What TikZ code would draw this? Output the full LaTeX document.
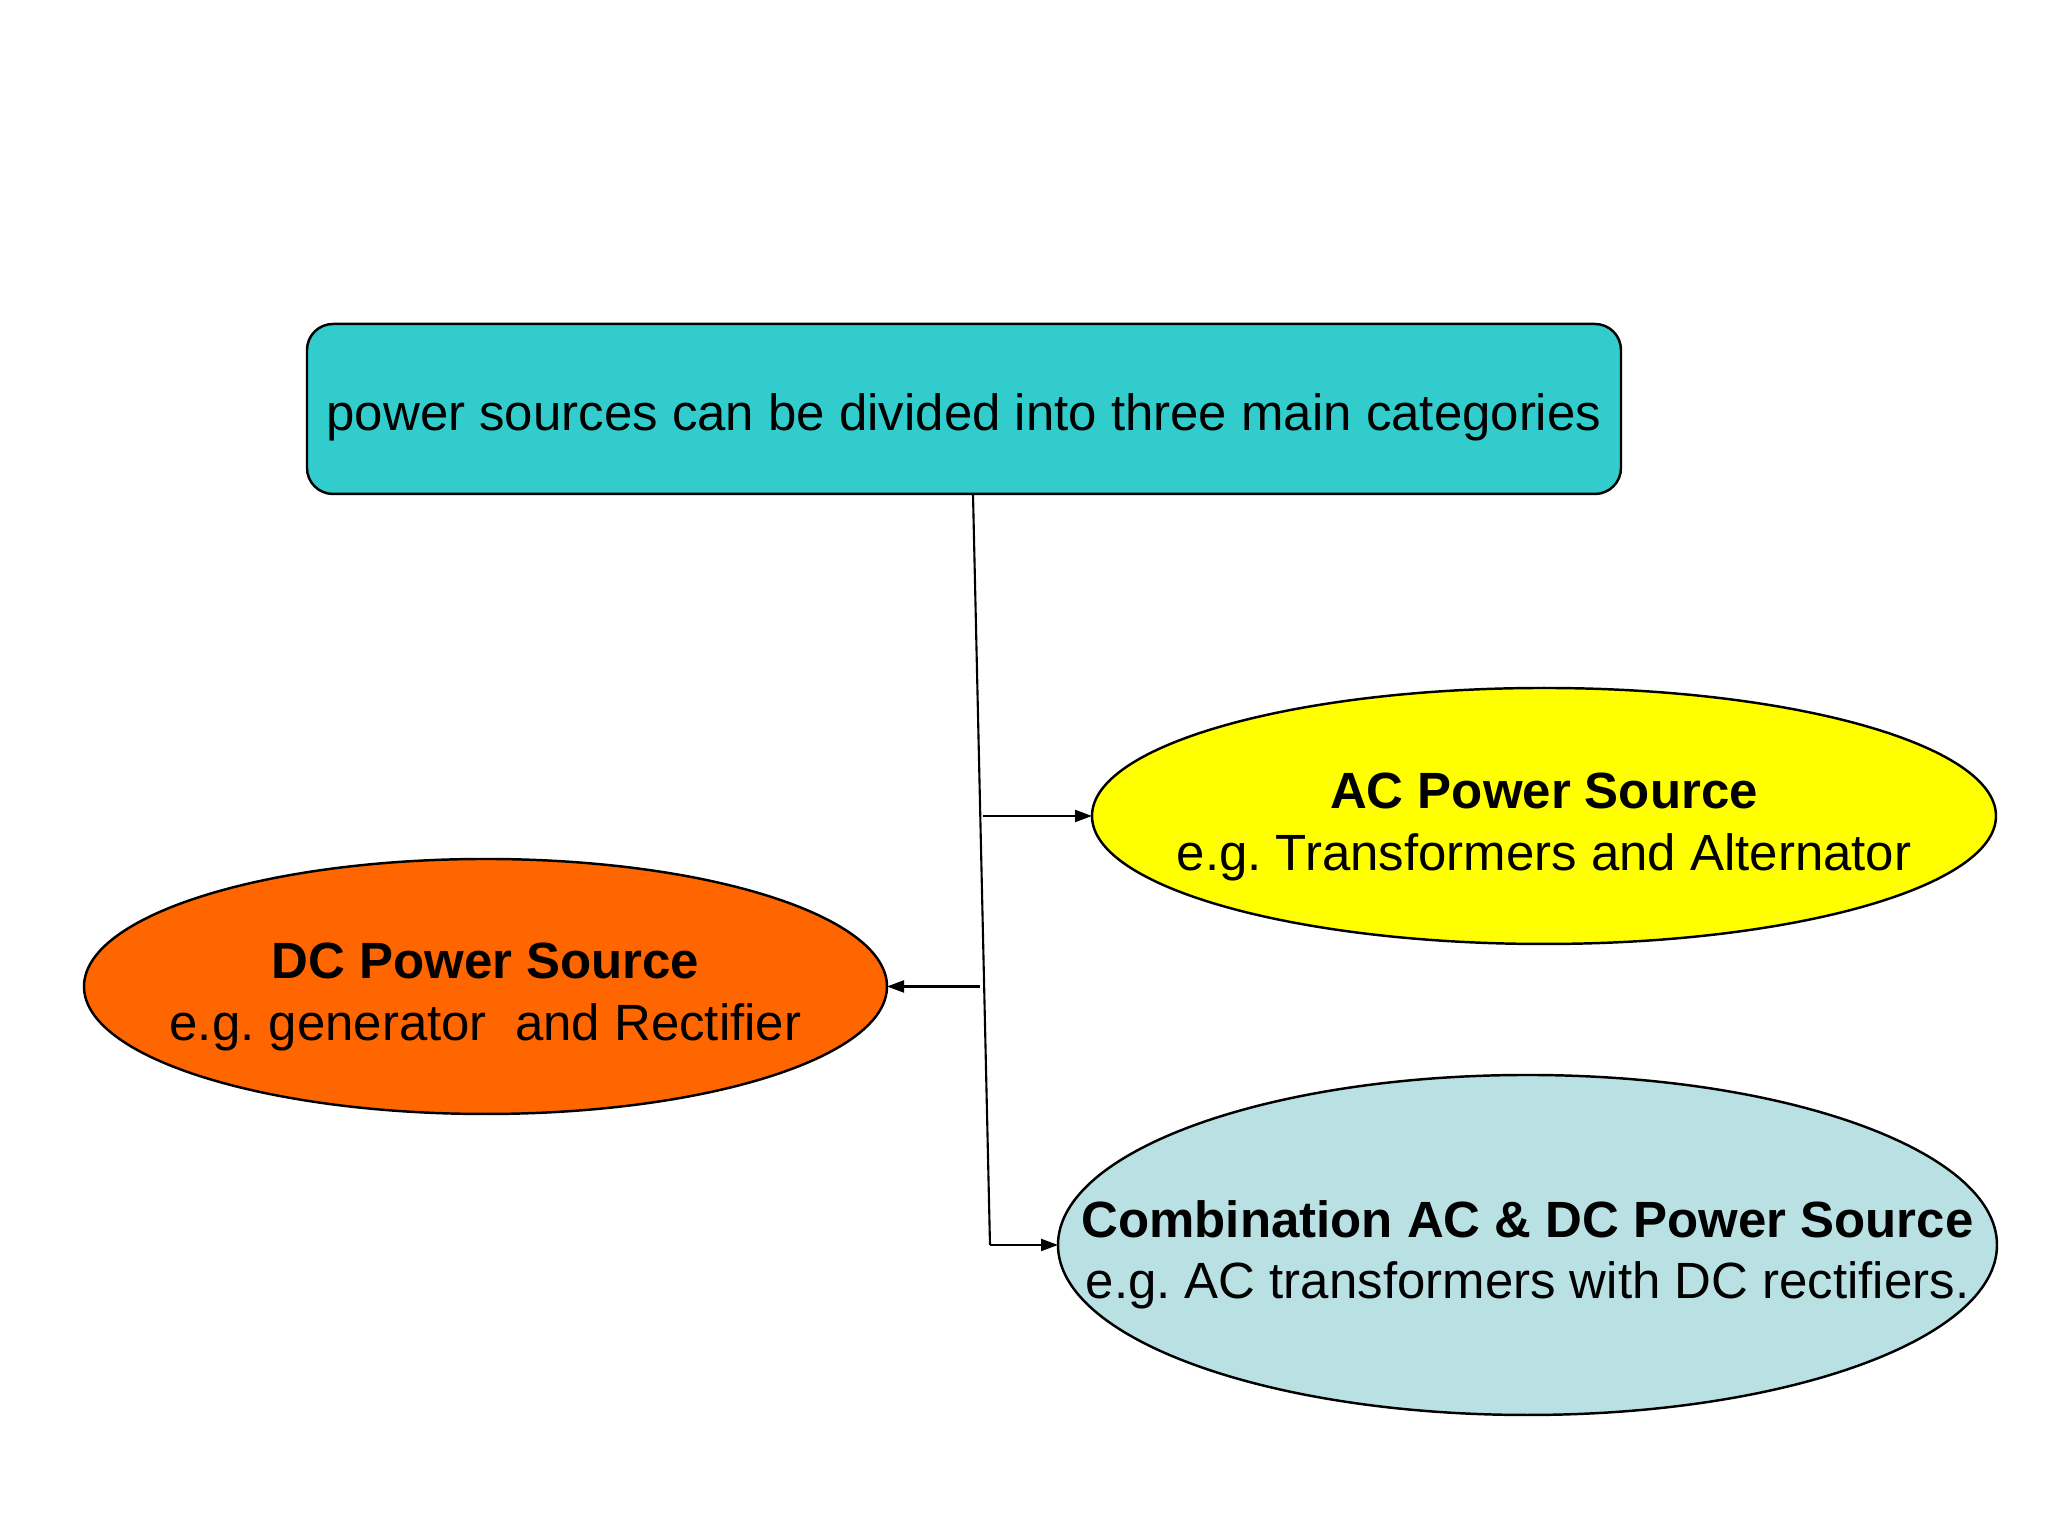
\documentclass[tikz,border=0pt]{standalone}
\usepackage{fontspec}
\setmainfont{Liberation Sans}
\usetikzlibrary{shapes.geometric,arrows.meta}
\definecolor{teal1}{HTML}{33CCCC}
\definecolor{yel}{HTML}{FFFF00}
\definecolor{ora}{HTML}{FF6600}
\definecolor{lblue}{HTML}{B9E1E3}
\frenchspacing
\tikzset{
  oval/.style={ellipse, draw=black, line width=0.7pt, inner sep=0pt, outer sep=0pt},
  txt/.style={align=center, inner sep=0pt, font=\fontsize{14.5}{17.4}\selectfont},
  conn/.style={line width=0.6pt, draw=black},
  arr/.style={conn, -{Triangle[length=0.17cm,width=0.12cm]}}
}
\begin{document}
\begin{tikzpicture}
\useasboundingbox (0,0) rectangle (20.48,15.36);
\node[draw=black, fill=teal1, rounded corners=0.26cm, line width=0.7pt,
      minimum width=13.14cm, minimum height=1.70cm, inner sep=0pt]
      (top) at (9.64,11.27) {};
\node[txt] (toptxt) at (9.64,11.19) {power sources can be divided into three main categories};

\node[oval, fill=yel, minimum width=9.04cm, minimum height=2.56cm] (ac) at (15.44,7.20) {};
\node[txt] (actxt) at (15.44,7.09) {\textbf{AC Power Source}\\e.g.\ Transformers and Alternator};

\node[oval, fill=ora, minimum width=8.03cm, minimum height=2.55cm] (dc) at (4.855,5.495) {};
\node[txt] (dctxt) at (4.855,5.39) {\textbf{DC Power Source}\\e.g.\ generator\ \ and Rectifier};

\node[oval, fill=lblue, minimum width=9.39cm, minimum height=3.40cm] (cb) at (15.275,2.91) {};
\node[txt] (cbtxt) at (15.275,2.81) {\textbf{Combination AC \& DC Power Source}\\e.g.\ AC transformers with DC rectifiers.};

\coordinate (t) at (9.73,10.42);
\coordinate (kb) at (9.90,2.91);
\coordinate (ja) at (9.83,7.20);
\coordinate (jd) at (9.80,5.495);
\draw[conn] (t) -- (kb);
\draw[arr] (ja) -- (ac.west);
\draw[arr] (jd) -- (dc.east);
\draw[arr] (kb) -- (cb.west);
\end{tikzpicture}
\end{document}
